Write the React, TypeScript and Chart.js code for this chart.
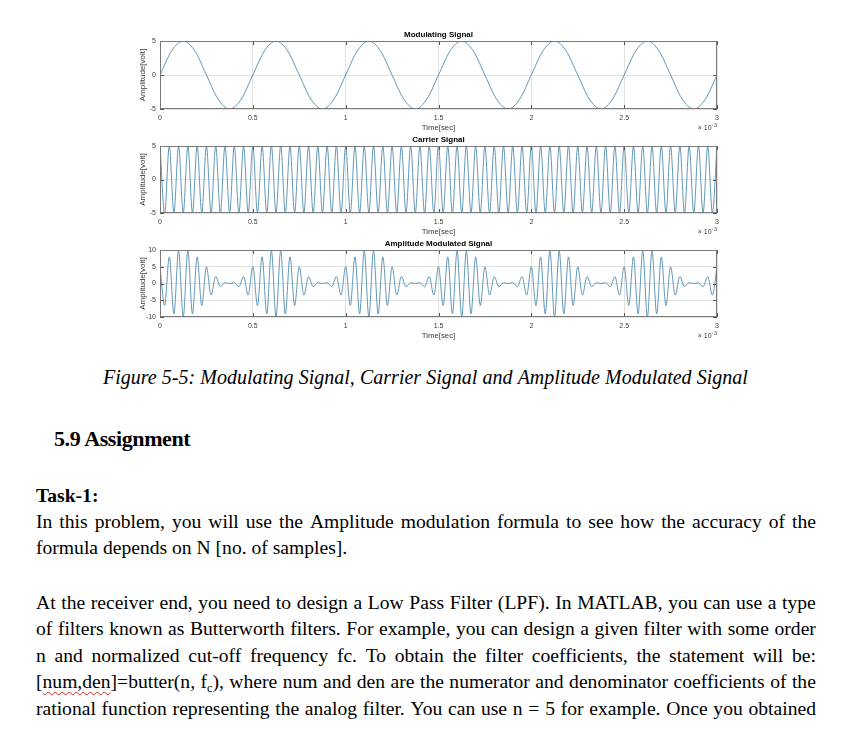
import React, { useEffect, useRef } from 'react';
import { Chart, registerables } from 'chart.js';

Chart.register(...registerables);

// ---------------- data ----------------
const xTickValues = [0, 0.5, 1, 1.5, 2, 2.5, 3];
const xTickLabels = ['0', '0.5', '1', '1.5', '2', '2.5', '3'];
const yTickValues5 = [-5, 0, 5];
const yTickLabels5 = ['-5', '0', '5'];
const yTickValues10 = [-10, -5, 0, 5, 10];
const yTickLabels10 = ['-10', '-5', '0', '5', '10'];

// modulating signal, sampled every 0.0625 ms (x10^-3 s)
const modulatingStepMs = 0.0625;
const modulatingValues = [
  0, 3.54, 5, 3.54, 0, -3.54, -5, -3.54,
  0, 3.54, 5, 3.54, 0, -3.54, -5, -3.54,
  0, 3.54, 5, 3.54, 0, -3.54, -5, -3.54,
  0, 3.54, 5, 3.54, 0, -3.54, -5, -3.54,
  0, 3.54, 5, 3.54, 0, -3.54, -5, -3.54,
  0, 3.54, 5, 3.54, 0, -3.54, -5, -3.54,
  0,
];

// carrier signal peaks / troughs, every 0.025 ms
const carrierStepMs = 0.025;
const carrierValues = [
  5, -5, 5, -5, 5, -5, 5, -5, 5, -5, 5, -5, 5, -5, 5, -5, 5, -5, 5, -5,
  5, -5, 5, -5, 5, -5, 5, -5, 5, -5, 5, -5, 5, -5, 5, -5, 5, -5, 5, -5,
  5, -5, 5, -5, 5, -5, 5, -5, 5, -5, 5, -5, 5, -5, 5, -5, 5, -5, 5, -5,
  5, -5, 5, -5, 5, -5, 5, -5, 5, -5, 5, -5, 5, -5, 5, -5, 5, -5, 5, -5,
  5, -5, 5, -5, 5, -5, 5, -5, 5, -5, 5, -5, 5, -5, 5, -5, 5, -5, 5, -5,
  5, -5, 5, -5, 5, -5, 5, -5, 5, -5, 5, -5, 5, -5, 5, -5, 5, -5, 5, -5,
  5,
];

// amplitude modulated signal peaks / troughs, every 0.025 ms
const amStepMs = 0.025;
const amValues = [
  5, -6.55, 7.94, -9.05, 9.76, -10, 9.76, -9.05, 7.94, -6.55, 5, -3.45, 2.06, -0.95, 0.24, 0, 0.24, -0.95, 2.06, -3.45,
  5, -6.55, 7.94, -9.05, 9.76, -10, 9.76, -9.05, 7.94, -6.55, 5, -3.45, 2.06, -0.95, 0.24, 0, 0.24, -0.95, 2.06, -3.45,
  5, -6.55, 7.94, -9.05, 9.76, -10, 9.76, -9.05, 7.94, -6.55, 5, -3.45, 2.06, -0.95, 0.24, 0, 0.24, -0.95, 2.06, -3.45,
  5, -6.55, 7.94, -9.05, 9.76, -10, 9.76, -9.05, 7.94, -6.55, 5, -3.45, 2.06, -0.95, 0.24, 0, 0.24, -0.95, 2.06, -3.45,
  5, -6.55, 7.94, -9.05, 9.76, -10, 9.76, -9.05, 7.94, -6.55, 5, -3.45, 2.06, -0.95, 0.24, 0, 0.24, -0.95, 2.06, -3.45,
  5, -6.55, 7.94, -9.05, 9.76, -10, 9.76, -9.05, 7.94, -6.55, 5, -3.45, 2.06, -0.95, 0.24, 0, 0.24, -0.95, 2.06, -3.45,
  5,
];

const chartTitles = ['Modulating Signal', 'Carrier Signal', 'Amplitude Modulated Signal'];
const xAxisTitle = 'Time[sec]';
const yAxisTitle = 'Amplitude[volt]';

const captionText = 'Figure 5-5: Modulating Signal, Carrier Signal and Amplitude Modulated Signal';
const headingText = '5.9 Assignment';
const taskText = 'Task-1:';
const para1Lines = [
  'In this problem, you will use the Amplitude modulation formula to see how the accuracy of the',
  'formula depends on N [no. of samples].',
];
const para2Lines = [
  'At the receiver end, you need to design a Low Pass Filter (LPF). In MATLAB, you can use a type',
  'of filters known as Butterworth filters. For example, you can design a given filter with some order',
  'n and normalized cut-off frequency fc. To obtain the filter coefficients, the statement will be:',
  '[num,den]=butter(n, fc), where num and den are the numerator and denominator coefficients of the',
  'rational function representing the analog filter. You can use n = 5 for example. Once you obtained',
];

// ---------------- styles ----------------
const SANS = "'Liberation Sans', Arial, sans-serif";
const SERIF = '"Liberation Serif", "Times New Roman", serif';
const LINE = '#4f8cb0';
const GRID = '#e2e2e2';
const TICK = '#3a3a3a';
const PLOT_LEFT = 160;
const PLOT_RIGHT = 717;
const TITLE_H = 16;
const XAXIS_H = 26;
const YAXIS_W = 40;
const CANVAS_W = 862;

const matlabAxes = {
  id: 'matlabAxes',
  afterDraw(chart: any) {
    const { ctx, chartArea: a } = chart;
    const xs = chart.scales.x;
    const ys = chart.scales.y;
    ctx.save();
    ctx.strokeStyle = '#555555';
    ctx.lineWidth = 1;
    ctx.beginPath();
    xs.ticks.forEach((t: any) => {
      const px = Math.round(xs.getPixelForValue(t.value)) + 0.5;
      ctx.moveTo(px, a.bottom);
      ctx.lineTo(px, a.bottom - 4);
      ctx.moveTo(px, a.top);
      ctx.lineTo(px, a.top + 4);
    });
    ys.ticks.forEach((t: any) => {
      const py = Math.round(ys.getPixelForValue(t.value)) + 0.5;
      ctx.moveTo(a.left, py);
      ctx.lineTo(a.left + 4, py);
      ctx.moveTo(a.right, py);
      ctx.lineTo(a.right - 4, py);
    });
    ctx.stroke();
    ctx.strokeStyle = '#7a7a7a';
    ctx.strokeRect(
      Math.round(a.left) + 0.5,
      Math.round(a.top) + 0.5,
      Math.round(a.right - a.left) - 1,
      Math.round(a.bottom - a.top) - 1
    );
    // exponent label
    ctx.fillStyle = TICK;
    ctx.textBaseline = 'middle';
    ctx.textAlign = 'right';
    ctx.font = `5.5px ${SANS}`;
    const sup = '-3';
    const supW = ctx.measureText(sup).width;
    ctx.fillText(sup, a.right, a.bottom + 16);
    ctx.font = `7px ${SANS}`;
    ctx.fillText('\u00d7 10', a.right - supW - 0.5, a.bottom + 19);
    ctx.restore();
  },
};

type PanelProps = {
  title: string;
  values: number[];
  step: number;
  yMin: number;
  yMax: number;
  yTicks: number[];
  yLabels: string[];
  plotTop: number;
  plotBottom: number;
};

function Panel(p: PanelProps) {
  const ref = useRef<HTMLCanvasElement | null>(null);
  const h = p.plotBottom - p.plotTop + TITLE_H + XAXIS_H;
  useEffect(() => {
    const canvas = ref.current;
    if (!canvas) return;
    const chart = new Chart(canvas, {
      type: 'line',
      data: {
        datasets: [
          {
            data: p.values.map((y, i) => ({ x: i * p.step, y })),
            borderColor: LINE,
            borderWidth: 0.9,
            pointRadius: 0,
            cubicInterpolationMode: 'monotone',
            fill: false,
          } as any,
        ],
      },
      options: {
        animation: false,
        responsive: false,
        devicePixelRatio: 1,
        events: [],
        layout: {
          padding: { left: PLOT_LEFT - YAXIS_W, right: CANVAS_W - PLOT_RIGHT, top: 0, bottom: 0 },
        },
        plugins: {
          legend: { display: false },
          tooltip: { enabled: false },
          title: {
            display: true,
            text: p.title,
            fullSize: false,
            color: '#000000',
            font: { family: SANS, size: 8, weight: 'bold', lineHeight: 1.2 },
            padding: { top: 5.2, bottom: 1.2 },
          },
        },
        scales: {
          x: {
            type: 'linear',
            min: 0,
            max: 3,
            afterBuildTicks: (s: any) => {
              s.ticks = xTickValues.map((v) => ({ value: v }));
            },
            ticks: {
              autoSkip: false,
              maxRotation: 0,
              padding: 5,
              color: TICK,
              font: { family: SANS, size: 7, lineHeight: 1.2 },
              callback: (_v: any, i: number) => xTickLabels[i],
            },
            grid: { color: GRID, drawTicks: false, lineWidth: 1 },
            border: { display: false },
            title: {
              display: true,
              text: xAxisTitle,
              color: TICK,
              font: { family: SANS, size: 7.8, lineHeight: 1.2 },
              padding: { top: 0, bottom: 2.3 },
            },
            afterFit: (s: any) => {
              s.height = XAXIS_H;
            },
          } as any,
          y: {
            type: 'linear',
            min: p.yMin,
            max: p.yMax,
            afterBuildTicks: (s: any) => {
              s.ticks = p.yTicks.map((v) => ({ value: v }));
            },
            ticks: {
              padding: 4,
              color: TICK,
              font: { family: SANS, size: 7, lineHeight: 1.2 },
              callback: (_v: any, i: number) => p.yLabels[i],
            },
            grid: { color: GRID, drawTicks: false, lineWidth: 1 },
            border: { display: false },
            title: {
              display: true,
              text: yAxisTitle,
              color: TICK,
              font: { family: SANS, size: 8, lineHeight: 1.2 },
              padding: { top: 18.2, bottom: 0 },
            },
            afterFit: (s: any) => {
              s.width = YAXIS_W;
            },
          } as any,
        },
      },
      plugins: [matlabAxes],
    });
    return () => chart.destroy();
  }, []);
  return (
    <canvas
      ref={ref}
      width={CANVAS_W}
      height={h}
      style={{ position: 'absolute', left: 0, top: p.plotTop - TITLE_H, width: CANVAS_W, height: h }}
    />
  );
}

function JustLine(props: { top: number; left: number; width: number; words: React.ReactNode[]; style?: React.CSSProperties }) {
  return (
    <div
      style={{
        position: 'absolute',
        top: props.top,
        left: props.left,
        width: props.width,
        display: 'flex',
        justifyContent: 'space-between',
        whiteSpace: 'nowrap',
        ...props.style,
      }}
    >
      {props.words.map((w, i) => (
        <span key={i}>{w}</span>
      ))}
    </div>
  );
}

const bodyStyle: React.CSSProperties = {
  fontFamily: SERIF,
  fontSize: 19.6,
  lineHeight: '26px',
  color: '#000',
};

const wavy: React.CSSProperties = {
  textDecorationLine: 'underline',
  textDecorationStyle: 'wavy',
  textDecorationColor: '#d42a2a',
  textDecorationThickness: '1px',
  textUnderlineOffset: '3px',
};

function words(s: string): React.ReactNode[] {
  return s.split(' ');
}

function para2Line4Words(): React.ReactNode[] {
  const w = para2Lines[3].split(' ');
  const first = (
    <>
      [<span style={wavy}>num,den</span>]=butter(n,
    </>
  );
  const second = (
    <>
      f<sub style={{ fontSize: '0.62em', verticalAlign: '-0.3em', lineHeight: 0 }}>c</sub>),
    </>
  );
  return [first, second, ...w.slice(2)];
}

export default function App() {
  const textTop = (cy: number) => cy - 14;
  return (
    <div
      style={{
        position: 'absolute',
        left: 0,
        top: 0,
        width: 862,
        height: 740,
        background: '#ffffff',
        overflow: 'hidden',
      }}
    >
      <Panel
        title={chartTitles[0]}
        values={modulatingValues}
        step={modulatingStepMs}
        yMin={-5}
        yMax={5}
        yTicks={yTickValues5}
        yLabels={yTickLabels5}
        plotTop={41}
        plotBottom={109}
      />
      <Panel
        title={chartTitles[1]}
        values={carrierValues}
        step={carrierStepMs}
        yMin={-5}
        yMax={5}
        yTicks={yTickValues5}
        yLabels={yTickLabels5}
        plotTop={146}
        plotBottom={213}
      />
      <Panel
        title={chartTitles[2]}
        values={amValues}
        step={amStepMs}
        yMin={-10}
        yMax={10}
        yTicks={yTickValues10}
        yLabels={yTickLabels10}
        plotTop={250}
        plotBottom={317}
      />

      <JustLine
        top={textTop(378)}
        left={103}
        width={645}
        words={words(captionText)}
        style={{ ...bodyStyle, fontSize: 20, fontStyle: 'italic' }}
      />

      <div
        style={{
          ...bodyStyle,
          position: 'absolute',
          top: textTop(441) - 1,
          left: 54,
          fontSize: 22,
          fontWeight: 'bold',
          letterSpacing: '-0.4px',
          whiteSpace: 'nowrap',
        }}
      >
        {headingText}
      </div>

      <div
        style={{
          ...bodyStyle,
          position: 'absolute',
          top: textTop(497),
          left: 36,
          fontWeight: 'bold',
          whiteSpace: 'nowrap',
        }}
      >
        {taskText}
      </div>

      <JustLine top={textTop(523)} left={36} width={780} words={words(para1Lines[0])} style={bodyStyle} />
      <div style={{ ...bodyStyle, position: 'absolute', top: textTop(549), left: 36, whiteSpace: 'nowrap' }}>
        {para1Lines[1]}
      </div>

      <JustLine top={textTop(604)} left={36} width={780} words={words(para2Lines[0])} style={bodyStyle} />
      <JustLine top={textTop(630)} left={36} width={780} words={words(para2Lines[1])} style={bodyStyle} />
      <JustLine top={textTop(657)} left={36} width={780} words={words(para2Lines[2])} style={bodyStyle} />
      <JustLine top={textTop(683)} left={36} width={780} words={para2Line4Words()} style={bodyStyle} />
      <JustLine top={textTop(710)} left={36} width={780} words={words(para2Lines[4])} style={bodyStyle} />
    </div>
  );
}
